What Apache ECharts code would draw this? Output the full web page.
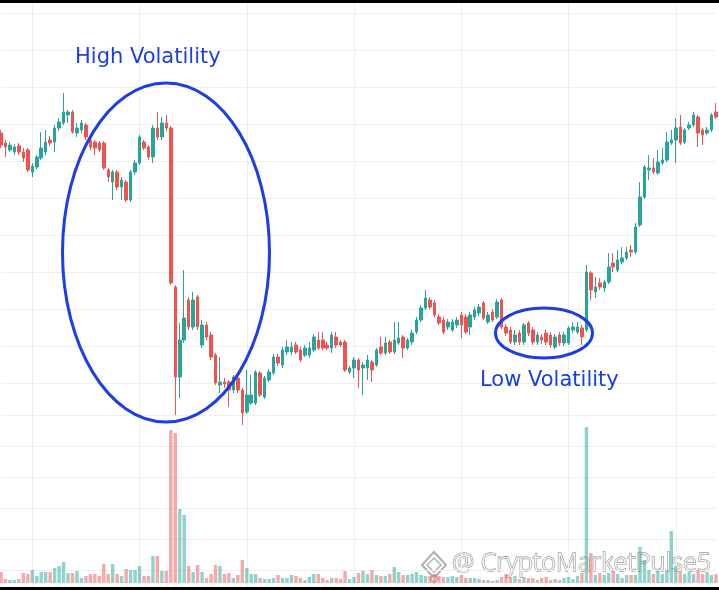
<!DOCTYPE html>
<html><head><meta charset="utf-8">
<script src="https://cdn.jsdelivr.net/npm/echarts@6/dist/echarts.min.js"></script>
<style>html,body{margin:0;padding:0;background:#fff}#c{width:719px;height:590px}</style>
</head><body><div id="c"></div>
<script>
const opens = [398,388,381,379,385,379,381,359,364,373,
379,391,389,403,408,416,419,398,401,406,
391,389,388,388,361,349,359,344,349,331,
359,368,389,384,374,403,394,408,403,244,
154,191,231,204,234,186,206,196,176,146,
149,149,141,153,141,119,128,128,158,134,
151,158,174,166,179,179,186,181,176,176,
181,191,191,186,183,194,189,189,159,163,
171,163,163,169,166,184,178,189,179,188,
194,183,189,199,211,223,231,228,214,211,
204,201,206,216,214,204,214,218,228,209,
219,214,231,204,201,189,198,189,208,201,
189,194,198,196,184,196,188,188,201,199,
203,201,258,239,248,243,249,268,261,269,
273,281,279,306,334,361,363,358,368,371,
388,391,404,389,403,406,414,401,398,401,
419];
const closes = [386,384,386,384,379,373,361,365,374,383,
389,388,403,409,419,419,399,403,408,394,
384,383,381,363,354,359,344,351,331,359,
368,394,383,374,403,394,408,403,248,154,
191,213,204,231,204,206,194,174,148,149,
147,141,154,141,118,136,136,159,136,153,
159,174,168,181,184,184,179,171,183,183,
194,183,183,183,196,186,186,161,163,171,
161,166,171,161,181,178,188,179,191,193,
183,191,198,211,223,233,224,216,208,199,
209,209,211,206,199,216,221,224,213,216,
211,229,204,198,189,196,189,206,198,189,
196,191,189,186,194,188,196,203,204,204,
194,259,241,244,244,249,264,264,271,273,
279,279,304,334,364,363,359,369,371,389,
391,403,388,401,406,416,398,396,401,416,
414];
const lows = [383,374,379,376,376,369,359,354,362,371,
376,385,379,400,406,408,397,394,398,391,
381,376,379,361,349,331,341,331,329,329,
356,366,381,371,368,391,391,400,246,116,
133,188,201,201,201,183,191,171,146,138,
143,124,138,138,106,117,126,126,134,132,
149,156,165,163,176,176,177,169,174,173,
179,181,181,181,178,183,184,159,157,153,
143,136,151,149,164,176,176,177,177,186,
173,181,186,197,209,221,222,214,206,197,
201,199,203,193,197,196,211,215,211,207,
209,212,202,195,187,186,186,186,195,186,
186,187,186,183,182,185,185,186,198,197,
186,199,231,233,241,239,247,259,259,267,
271,274,277,304,332,351,357,356,366,369,
386,368,386,387,401,404,384,386,396,399,
412];
const highs = [401,391,389,387,388,383,383,368,376,399,
401,395,406,413,438,421,421,408,411,408,
394,391,390,390,363,361,361,354,351,361,
371,396,391,386,406,419,414,416,405,246,
208,261,234,239,236,211,209,199,178,174,
153,151,156,155,143,161,156,161,160,155,
162,177,177,184,191,189,189,184,186,189,
197,199,199,189,199,199,191,191,165,174,
173,169,176,171,183,194,194,191,209,209,
196,193,201,214,226,241,234,231,217,214,
212,212,214,219,217,219,224,227,230,219,
222,232,233,207,204,201,201,208,210,204,
199,197,201,199,197,199,199,205,209,209,
206,266,260,254,253,251,278,278,281,284,
284,286,308,349,366,376,373,381,383,399,
401,413,416,403,409,419,416,403,404,418,
428];
const volumes = [11,4,3,3,4,10,9,13,7,11,
11,11,15,17,21,10,10,12,5,7,
9,9,7,19,9,19,9,7,14,13,
13,17,7,7,27,27,12,12,153,150,
74,68,17,11,18,11,5,9,18,17,
9,10,5,8,23,15,9,9,5,4,
4,5,8,5,5,8,7,5,3,6,
9,9,5,3,5,5,4,12,4,6,
10,12,9,13,8,7,7,9,16,11,
8,8,9,11,8,7,7,9,7,6,
6,7,6,8,5,5,5,4,3,3,
2,3,6,9,6,7,4,6,5,5,
3,5,6,3,4,3,5,6,4,7,
10,156,30,8,10,8,10,12,9,5,
8,8,8,36,23,13,9,12,9,13,
52,17,12,9,11,9,13,9,11,8,
9];
const categories = opens.map((_, i) => 'D' + (i + 1));
const annotationTexts = ['High Volatility', 'Low Volatility'];
const watermarkText = '@ CryptoMarketPulse5';

const candleData = opens.map((o, i) => [o, closes[i], lows[i], highs[i]]);
const UP = '#26a69a', DOWN = '#ef5350';
const BLUE = '#1b3fe4';
const GRID_C = '#efefef';

const chart = echarts.init(document.getElementById('c'));
const xBase = {type: 'category', data: categories, boundaryGap: false,
  axisLine: {show: false}, axisTick: {show: false}, axisLabel: {show: false}, splitLine: {show: false}};
const yHidden = {axisLine: {show: false}, axisTick: {show: false}, axisLabel: {show: false}};

chart.setOption({
  animation: false,
  backgroundColor: '#ffffff',
  grid: [
    {left: 1, right: 3, top: 3, bottom: 3},
    {left: 1, right: 3, top: 13, height: 370},
    {left: 1, right: 3, top: 415, height: 155},
    {left: 1, right: 3, top: 420, height: 163}
  ],
  xAxis: [
    Object.assign({}, xBase, {gridIndex: 0, splitLine: {show: true,
      interval: (i) => i >= 7 && (i - 7) % 24 === 0, lineStyle: {color: GRID_C, width: 1}}}),
    Object.assign({}, xBase, {gridIndex: 1}),
    Object.assign({}, xBase, {gridIndex: 2}),
    Object.assign({}, xBase, {gridIndex: 3})
  ],
  yAxis: [
    Object.assign({type: 'value', gridIndex: 0, min: 0, max: 1, splitLine: {show: false}}, yHidden),
    Object.assign({type: 'value', gridIndex: 1, min: 148, max: 518, interval: 37,
      splitLine: {show: true, lineStyle: {color: GRID_C, width: 1}}}, yHidden),
    Object.assign({type: 'value', gridIndex: 2, min: 0, max: 155, interval: 31,
      splitLine: {show: true, lineStyle: {color: GRID_C, width: 1}}}, yHidden),
    Object.assign({type: 'value', gridIndex: 3, min: 0, max: 163, splitLine: {show: false}}, yHidden)
  ],
  series: [
    {type: 'candlestick', xAxisIndex: 1, yAxisIndex: 1, data: candleData, barWidth: 3, clip: false,
      itemStyle: {color: UP, color0: DOWN, borderColor: UP, borderColor0: DOWN, borderWidth: 1}},
    {type: 'bar', xAxisIndex: 3, yAxisIndex: 3, clip: false, barWidth: 3.4,
      data: volumes.map((v, i) => ({value: v, itemStyle: {color: closes[i] >= opens[i] ? 'rgba(38,166,154,0.5)' : 'rgba(239,83,80,0.5)'}}))}
  ],
  graphic: [
    {type: 'ellipse', z: 100, shape: {cx: 166, cy: 252.5, rx: 103.5, ry: 169.5}, style: {fill: 'none', stroke: BLUE, lineWidth: 3}},
    {type: 'ellipse', z: 100, shape: {cx: 544, cy: 333, rx: 48.5, ry: 25}, style: {fill: 'none', stroke: BLUE, lineWidth: 3}},
    {type: 'text', z: 100, style: {text: annotationTexts[0], x: 75, y: 47, fill: BLUE, font: '21px "DejaVu Sans"', textVerticalAlign: 'top', verticalAlign: 'top'}},
    {type: 'text', z: 100, style: {text: annotationTexts[1], x: 480, y: 370, fill: BLUE, font: '21px "DejaVu Sans"', textVerticalAlign: 'top', verticalAlign: 'top'}},
    {type: 'group', z: 100, children: [
      {type: 'polygon', shape: {points: [[434, 552], [446, 565], [434, 578], [422, 565]]}, style: {fill: 'none', stroke: 'rgba(150,150,150,0.75)', lineWidth: 2}},
      {type: 'polygon', shape: {points: [[434, 558], [441, 565], [434, 572], [427, 565]]}, style: {fill: 'rgba(255,255,255,0.9)', stroke: 'rgba(150,150,150,0.75)', lineWidth: 1.5}},
      {type: 'polygon', shape: {points: [[434, 575], [438, 579], [434, 583], [430, 579]]}, style: {fill: 'rgba(255,255,255,0.9)', stroke: 'rgba(150,150,150,0.75)', lineWidth: 1.2}},
      {type: 'text', style: {text: watermarkText, x: 452, y: 551, fill: 'rgba(255,255,255,0.92)', stroke: 'rgba(130,130,130,0.8)', lineWidth: 1.3,
        font: '300 25px "Noto Sans"', textVerticalAlign: 'top', verticalAlign: 'top'}}
    ]},
    {type: 'rect', z: 110, shape: {x: 0, y: 0, width: 719, height: 3}, style: {fill: '#000'}},
    {type: 'rect', z: 110, shape: {x: 0, y: 587, width: 719, height: 3}, style: {fill: '#000'}}
  ]
});
</script>
</body></html>
